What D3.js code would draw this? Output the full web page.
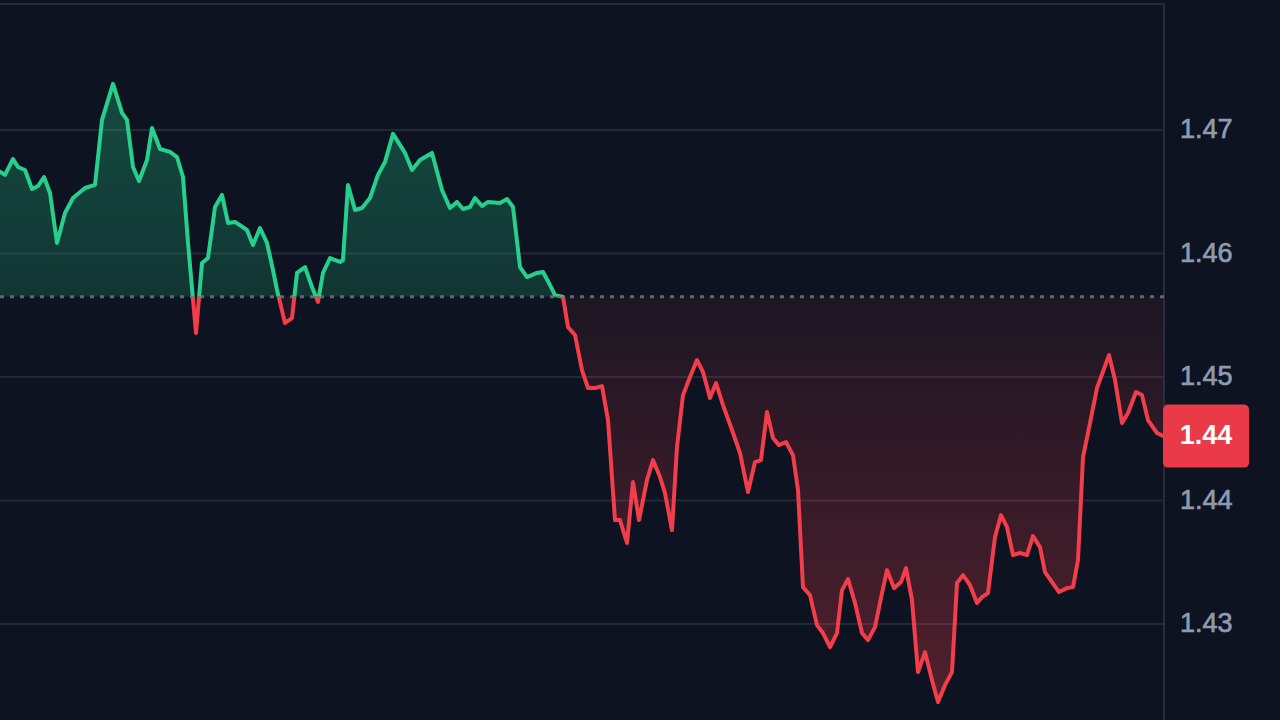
<!DOCTYPE html>
<html>
<head>
<meta charset="utf-8">
<script src="https://cdn.jsdelivr.net/npm/d3@7"></script>
<style>
  html, body { margin: 0; padding: 0; background: #0d1320; overflow: hidden; }
  svg { display: block; }
</style>
</head>
<body>
<svg id="chart" width="1280" height="720"></svg>
<script>
// ---- data ----
const times = [
  0, 5, 13, 18, 25, 32, 38, 44, 50, 57, 65, 73, 85, 95, 102, 113, 122, 127, 133, 139,
  147, 152, 160, 170, 177, 183, 188, 196, 202, 208, 215, 222, 228, 235, 247, 253, 260, 267, 273,
  277, 285, 292, 297, 305, 312, 318, 323, 330, 340, 343, 348, 355, 362, 370, 378, 385, 393, 405,
  412, 420, 432, 442, 450, 457, 463, 470, 475, 482, 488, 500, 507, 513, 520, 527, 537, 543, 550, 555, 563,
  568, 575, 582, 588, 595, 602, 608, 615, 620, 627, 633, 639, 647, 653, 660, 665, 672, 677, 683,
  690, 697, 703, 710, 716, 723, 732, 740, 748, 755, 761, 767, 773, 779, 786, 793, 798,
  803, 810, 817, 823, 830, 837, 842, 848, 855, 862, 868, 875, 882, 887, 894, 901, 906, 912, 918,
  925, 932, 938, 945, 952, 957, 963, 970, 977, 982, 988, 995, 1001, 1007, 1013, 1020, 1027, 1033,
  1040, 1045, 1052, 1059, 1067, 1073, 1078, 1083, 1088, 1097, 1109, 1115, 1122, 1128, 1136, 1142,
  1148, 1157, 1163
];
const prices = [
  1.46662, 1.46636, 1.46765, 1.46700, 1.46676, 1.46522, 1.46546, 1.46619, 1.46490, 1.46085, 1.46328, 1.46449, 1.46530, 1.46555, 1.47081, 1.47373, 1.47138, 1.47081, 1.46700, 1.46587,
  1.46757, 1.47016, 1.46846, 1.46822, 1.46781, 1.46619, 1.46085, 1.45356, 1.45923, 1.45963, 1.46376, 1.46474, 1.46247, 1.46255, 1.46190, 1.46068, 1.46206, 1.46085, 1.45866,
  1.45704, 1.45437, 1.45477, 1.45842, 1.45890, 1.45728, 1.45607, 1.45842, 1.45963, 1.45931, 1.45947, 1.46555, 1.46352, 1.46368, 1.46449, 1.46636, 1.46741, 1.46968, 1.46814,
  1.46676, 1.46757, 1.46814, 1.46514, 1.46368, 1.46417, 1.46360, 1.46376, 1.46449, 1.46384, 1.46417, 1.46409, 1.46441, 1.46376, 1.45890, 1.45809, 1.45842, 1.45850, 1.45744, 1.45663, 1.45647,
  1.45404, 1.45340, 1.45056, 1.44910, 1.44910, 1.44926, 1.44651, 1.43841, 1.43841, 1.43655, 1.44149, 1.43841, 1.44165, 1.44327, 1.44189, 1.44060, 1.43760, 1.44432, 1.44853,
  1.45000, 1.45137, 1.45040, 1.44829, 1.44951, 1.44772, 1.44570, 1.44384, 1.44068, 1.44311, 1.44327, 1.44716, 1.44505, 1.44448, 1.44473, 1.44367, 1.44084,
  1.43298, 1.43233, 1.42990, 1.42926, 1.42812, 1.42926, 1.43274, 1.43363, 1.43169, 1.42926, 1.42869, 1.42974, 1.43250, 1.43436, 1.43290, 1.43339, 1.43452, 1.43193, 1.42610,
  1.42772, 1.42545, 1.42367, 1.42504, 1.42610, 1.43331, 1.43395, 1.43314, 1.43169, 1.43217, 1.43250, 1.43703, 1.43881, 1.43784, 1.43557, 1.43574, 1.43557, 1.43711,
  1.43622, 1.43420, 1.43339, 1.43258, 1.43290, 1.43298, 1.43517, 1.44351, 1.44546, 1.44910, 1.45177, 1.44975, 1.44627, 1.44708, 1.44878, 1.44853,
  1.44651, 1.44546, 1.44521
];
const baselinePrice = 1.4565;
const yTicks = [1.43, 1.44, 1.45, 1.46, 1.47];
const yDomain = [1.42222, 1.48020];
const tDomain = [0, 1163];

// ---- layout ----
const W = 1280, H = 720;
const plot = { left: 0, right: 1164, top: 4, bottom: 720 };
const colors = {
  bg: "#0d1320", grid: "#222936", border: "#272d3a",
  green: "#26d08c", red: "#f23d4a", tag: "#ea3a47",
  label: "#8f9ab0", dots: "#5f6676"
};

const svg = d3.select("#chart");
svg.append("rect").attr("width", W).attr("height", H).attr("fill", colors.bg);

const x = d3.scaleLinear().domain(tDomain).range([plot.left, plot.right - 1]);
const y = d3.scaleLinear().domain(yDomain).range([plot.bottom, plot.top]);

const data = times.map((t, i) => ({ t, v: prices[i] }));
const yBase = y(baselinePrice);

const defs = svg.append("defs");
defs.append("clipPath").attr("id", "clipAbove").append("rect")
  .attr("x", plot.left - 10).attr("y", plot.top).attr("width", plot.right - plot.left + 10).attr("height", yBase - plot.top);
defs.append("clipPath").attr("id", "clipBelow").append("rect")
  .attr("x", plot.left - 10).attr("y", yBase).attr("width", plot.right - plot.left + 10).attr("height", plot.bottom - yBase);

const gGreen = defs.append("linearGradient").attr("id", "gradGreen")
  .attr("gradientUnits", "userSpaceOnUse").attr("x1", 0).attr("x2", 0)
  .attr("y1", y(d3.max(prices))).attr("y2", yBase);
gGreen.append("stop").attr("offset", "0%").attr("stop-color", colors.green).attr("stop-opacity", 0.30);
gGreen.append("stop").attr("offset", "100%").attr("stop-color", colors.green).attr("stop-opacity", 0.18);

const gRed = defs.append("linearGradient").attr("id", "gradRed")
  .attr("gradientUnits", "userSpaceOnUse").attr("x1", 0).attr("x2", 0)
  .attr("y1", yBase).attr("y2", y(d3.min(prices)));
gRed.append("stop").attr("offset", "0%").attr("stop-color", colors.red).attr("stop-opacity", 0.07);
gRed.append("stop").attr("offset", "100%").attr("stop-color", colors.red).attr("stop-opacity", 0.30);

// grid
svg.append("g").selectAll("line").data(yTicks).join("line")
  .attr("x1", plot.left).attr("x2", plot.right)
  .attr("y1", d => y(d)).attr("y2", d => y(d))
  .attr("stroke", colors.grid).attr("stroke-width", 2);

// borders
svg.append("line").attr("x1", plot.left).attr("x2", plot.right).attr("y1", plot.top).attr("y2", plot.top)
  .attr("stroke", colors.border).attr("stroke-width", 2);
svg.append("line").attr("x1", plot.right).attr("x2", plot.right).attr("y1", plot.top).attr("y2", plot.bottom)
  .attr("stroke", colors.border).attr("stroke-width", 2);

// areas
const area = d3.area().x(d => x(d.t)).y0(yBase).y1(d => y(d.v));
svg.append("path").datum(data).attr("d", area).attr("fill", "url(#gradGreen)").attr("clip-path", "url(#clipAbove)");
svg.append("path").datum(data).attr("d", area).attr("fill", "url(#gradRed)").attr("clip-path", "url(#clipBelow)");

// baseline dotted
svg.append("line").attr("x1", plot.left).attr("x2", plot.right).attr("y1", yBase).attr("y2", yBase)
  .attr("stroke", colors.dots).attr("stroke-width", 3).attr("stroke-dasharray", "4,6");

// lines
const line = d3.line().x(d => x(d.t)).y(d => y(d.v));
svg.append("path").datum(data).attr("d", line).attr("fill", "none").attr("stroke", colors.green)
  .attr("stroke-width", 4).attr("stroke-linejoin", "round").attr("stroke-linecap", "round")
  .attr("clip-path", "url(#clipAbove)");
svg.append("path").datum(data).attr("d", line).attr("fill", "none").attr("stroke", colors.red)
  .attr("stroke-width", 4).attr("stroke-linejoin", "round").attr("stroke-linecap", "round")
  .attr("clip-path", "url(#clipBelow)");

// y axis labels
const fmt = d3.format(".2f");
svg.append("g").selectAll("text").data(yTicks).join("text")
  .attr("x", 1180).attr("y", d => y(d) + 1)
  .attr("dominant-baseline", "middle")
  .attr("font-family", "'Liberation Sans', Arial, sans-serif")
  .attr("font-size", 27).attr("fill", colors.label)
  .attr("stroke", colors.label).attr("stroke-width", 0.7)
  .text(d => fmt(d));

// last price tag
const last = data[data.length - 1];
const tagH = 63, tagW = 86;
const tagY = y(last.v);
svg.append("rect").attr("x", plot.right - 1).attr("y", tagY - tagH / 2)
  .attr("width", tagW).attr("height", tagH).attr("rx", 5).attr("fill", colors.tag);
svg.append("text").attr("x", plot.right - 1 + tagW / 2).attr("y", tagY + 1)
  .attr("text-anchor", "middle").attr("dominant-baseline", "middle")
  .attr("font-family", "'Liberation Sans', Arial, sans-serif").attr("font-weight", "bold")
  .attr("font-size", 27).attr("fill", "#ffffff")
  .text(fmt(Math.floor(last.v * 100) / 100));
</script>
</body>
</html>
